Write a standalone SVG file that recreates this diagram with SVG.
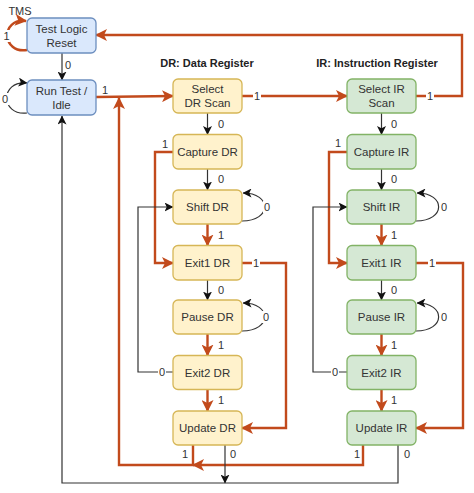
<svg xmlns="http://www.w3.org/2000/svg" width="474" height="493" viewBox="0 0 474 493">
<style>
.n rect{stroke-width:1.3}
.b rect{fill:#dae8fc;stroke:#6c8ebf}
.y rect{fill:#fff2cc;stroke:#d6b656}
.g rect{fill:#d5e8d4;stroke:#82b366}
.n text{font-family:"Liberation Sans",Arial,sans-serif;font-size:11.5px;fill:#333;text-anchor:middle}
.o{fill:none;stroke:#c24a1c;stroke-width:2.4;marker-end:url(#ao)}
.k{fill:none;stroke:#333;stroke-width:1.2;marker-end:url(#ak)}
.lb{font-family:"Liberation Sans",Arial,sans-serif;font-size:11px;fill:#333;text-anchor:middle}
.bg{fill:#fff}
.h{font-family:"Liberation Sans",Arial,sans-serif;font-size:11px;font-weight:bold;fill:#222;text-anchor:middle}
</style>
<defs>
<marker id="ao" markerUnits="userSpaceOnUse" markerWidth="12" markerHeight="12" viewBox="0 0 12 12" refX="11" refY="6" orient="auto"><path d="M0,0 L12,6 L0,12 L3,6 z" fill="#c24a1c"/></marker>
<marker id="ak" markerUnits="userSpaceOnUse" markerWidth="9" markerHeight="9" viewBox="0 0 9 9" refX="8.5" refY="4.5" orient="auto"><path d="M0,0 L9,4.5 L0,9 L2.2,4.5 z" fill="#111"/></marker>
</defs>

<text x="20" y="15" class="lb">TMS</text>
<text x="207" y="67" class="h">DR: Data Register</text>
<text x="377" y="67" class="h">IR: Instruction Register</text>

<g id="connectors">
<path class="o" d="M27,50 C2,54 0,18 26,21"/>
<path class="o" d="M96,97 L173,96"/>
<path class="o" d="M242,96 L347,96"/>
<path class="o" d="M416,96 L462,96 L462,35 L96,35"/>
<path class="o" d="M173,152 L155,152 L155,263 L173,263"/>
<path class="o" d="M347,152 L329,152 L329,263 L347,263"/>
<path class="o" d="M207.5,224 L207.5,245.5"/>
<path class="o" d="M381.5,224 L381.5,245.5"/>
<path class="o" d="M242,263 L286,263 L286,428 L242,428"/>
<path class="o" d="M416,263 L463,263 L463,428 L416,428"/>
<path class="o" d="M207.5,334 L207.5,355.5"/>
<path class="o" d="M381.5,334 L381.5,355.5"/>
<path class="o" d="M207.5,389.5 L207.5,411"/>
<path class="o" d="M381.5,389.5 L381.5,411"/>
<path class="o" d="M363,445 L363,465 L193,465"/>
<path class="o" d="M193,445 L193,465 L119,465 L119,98"/>
<path class="k" d="M62,53 L62,80"/>
<path class="k" d="M27,113 C0,116 0,80 27,83"/>
<path class="k" d="M207.5,113 L207.5,134.5"/>
<path class="k" d="M381.5,113 L381.5,134.5"/>
<path class="k" d="M207.5,169 L207.5,190"/>
<path class="k" d="M381.5,169 L381.5,190"/>
<path class="k" d="M242,221 C272,221 272,193 243,193"/>
<path class="k" d="M416,221 C446,221 446,193 417,193"/>
<path class="k" d="M207.5,280 L207.5,300"/>
<path class="k" d="M381.5,280 L381.5,300"/>
<path class="k" d="M242,331 C272,331 272,303 243,303"/>
<path class="k" d="M416,331 C446,331 446,303 417,303"/>
<path class="k" d="M173,372 L138,372 L138,207 L173,207"/>
<path class="k" d="M347,372 L313,372 L313,207 L347,207"/>
<path class="k" d="M225,445 L225,483"/>
<path class="k" d="M398,445 L398,483 L62,483 L62,116"/>

<rect class="bg" x="3" y="30" width="7" height="12"/><text x="6.5" y="40" class="lb">1</text>
<rect class="bg" x="1" y="93" width="8" height="12"/><text x="5" y="103" class="lb">0</text>
<text x="68" y="69" class="lb">0</text>
<text x="105" y="94" class="lb">1</text>
<rect class="bg" x="253" y="90" width="8" height="12"/><text x="257" y="100" class="lb">1</text>
<rect class="bg" x="426" y="90" width="8" height="12"/><text x="430" y="100" class="lb">1</text>
<text x="221" y="128" class="lb">0</text>
<text x="394" y="128" class="lb">0</text>
<text x="165" y="148" class="lb">1</text>
<text x="338" y="147" class="lb">1</text>
<text x="221" y="183" class="lb">0</text>
<text x="394" y="183" class="lb">0</text>
<rect class="bg" x="263" y="201" width="8" height="12"/><text x="267" y="211" class="lb">0</text>
<rect class="bg" x="440" y="201" width="8" height="12"/><text x="444" y="211" class="lb">0</text>
<text x="221" y="239" class="lb">1</text>
<text x="394" y="239" class="lb">1</text>
<rect class="bg" x="252" y="257" width="8" height="12"/><text x="256" y="267" class="lb">1</text>
<rect class="bg" x="428" y="257" width="8" height="12"/><text x="432" y="267" class="lb">1</text>
<text x="221" y="294" class="lb">0</text>
<text x="394" y="294" class="lb">0</text>
<rect class="bg" x="262" y="311" width="8" height="12"/><text x="266" y="321" class="lb">0</text>
<rect class="bg" x="440" y="311" width="8" height="12"/><text x="444" y="321" class="lb">0</text>
<text x="221" y="349" class="lb">1</text>
<text x="394" y="349" class="lb">1</text>
<rect class="bg" x="158" y="366" width="8" height="12"/><text x="162" y="376" class="lb">0</text>
<rect class="bg" x="331" y="366" width="8" height="12"/><text x="335" y="376" class="lb">0</text>
<text x="221" y="404" class="lb">1</text>
<text x="394" y="404" class="lb">1</text>
<text x="185" y="458" class="lb">1</text>
<text x="233" y="458" class="lb">0</text>
<text x="357" y="458" class="lb">1</text>
<text x="407" y="458" class="lb">0</text>
</g>

<g id="tlr" class="n b"><rect x="27" y="18" width="69" height="35" rx="5"/><text x="61.5" y="33">Test Logic</text><text x="61.5" y="47">Reset</text></g>
<g id="rti" class="n b"><rect x="27" y="80" width="69" height="35" rx="5"/><text x="61.5" y="95">Run Test /</text><text x="61.5" y="109">Idle</text></g>

<g id="seldr" class="n y"><rect x="173" y="79" width="69" height="34" rx="5"/><text x="207.5" y="93">Select</text><text x="207.5" y="107">DR Scan</text></g>
<g id="capdr" class="n y"><rect x="173" y="134.5" width="69" height="34.5" rx="5"/><text x="207.5" y="156">Capture DR</text></g>
<g id="shdr" class="n y"><rect x="173" y="190" width="69" height="34" rx="5"/><text x="207.5" y="211">Shift DR</text></g>
<g id="e1dr" class="n y"><rect x="173" y="245.5" width="69" height="34.5" rx="5"/><text x="207.5" y="267">Exit1 DR</text></g>
<g id="padr" class="n y"><rect x="173" y="300" width="69" height="34" rx="5"/><text x="207.5" y="321">Pause DR</text></g>
<g id="e2dr" class="n y"><rect x="173" y="355.5" width="69" height="34" rx="5"/><text x="207.5" y="377">Exit2 DR</text></g>
<g id="updr" class="n y"><rect x="173" y="411" width="69" height="34" rx="5"/><text x="207.5" y="432">Update DR</text></g>

<g id="selir" class="n g"><rect x="347" y="79" width="69" height="34" rx="5"/><text x="381.5" y="93">Select IR</text><text x="381.5" y="107">Scan</text></g>
<g id="capir" class="n g"><rect x="347" y="134.5" width="69" height="34.5" rx="5"/><text x="381.5" y="156">Capture IR</text></g>
<g id="shir" class="n g"><rect x="347" y="190" width="69" height="34" rx="5"/><text x="381.5" y="211">Shift IR</text></g>
<g id="e1ir" class="n g"><rect x="347" y="245.5" width="69" height="34.5" rx="5"/><text x="381.5" y="267">Exit1 IR</text></g>
<g id="pair" class="n g"><rect x="347" y="300" width="69" height="34" rx="5"/><text x="381.5" y="321">Pause IR</text></g>
<g id="e2ir" class="n g"><rect x="347" y="355.5" width="69" height="34" rx="5"/><text x="381.5" y="377">Exit2 IR</text></g>
<g id="upir" class="n g"><rect x="347" y="411" width="69" height="34" rx="5"/><text x="381.5" y="432">Update IR</text></g>
</svg>
